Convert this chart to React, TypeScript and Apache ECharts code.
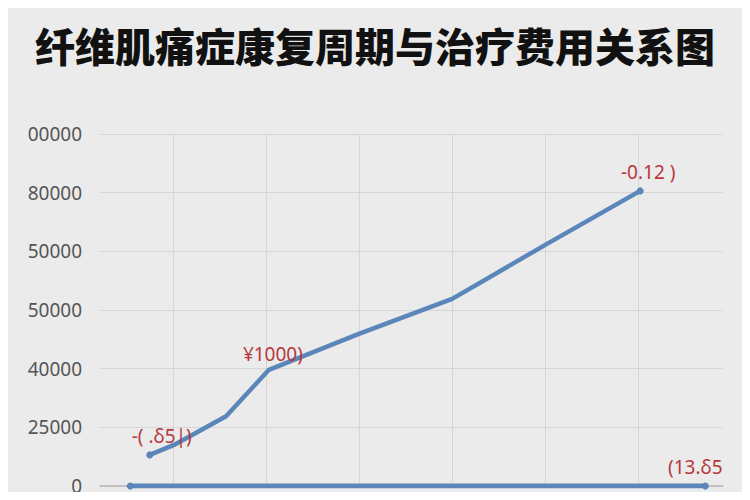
import React, { useEffect, useRef } from "react";
import * as echarts from "echarts";

const titleText = "纤维肌痛症康复周期与治疗费用关系图";
const yTickLabels = ["0", "25000", "40000", "50000", "50000", "80000", "00000"];

// main cost curve (x in grid-column units, y in grid-row units)
const costX = [0.75, 1.01, 1.57, 2.03, 2.99, 4.0, 5.0, 6.02];
const costY = [0.53, 0.7, 1.19, 1.98, 2.59, 3.19, 4.11, 5.03];
const costLabels = ["-( .δ5|)", "", "", "¥1000)", "", "", "", "-0.12 )"];

// flat baseline series
const flatX = [0.54, 6.72];
const flatY = [0, 0];
const flatLabels = ["", "(13.δ5"];

const lineColor = "#5a86b9";
const labelColor = "#b5383a";

function buildData(xs: number[], ys: number[], labels: string[], shifts: number[]) {
  return xs.map((x, i) => {
    const last = i === xs.length - 1;
    const item: any = { value: [x, ys[i]] };
    const showDot = last || i === 0;
    item.symbolSize = showDot ? 7 : 0;
    if (labels[i]) {
      item.label = {
        show: true,
        formatter: labels[i],
        position: "top",
        distance: 6,
        offset: [shifts[i] ?? 6, 0],
        color: labelColor,
        fontSize: 19,
        fontFamily: "Noto Sans",
      };
    }
    return item;
  });
}

export default function App() {
  const ref = useRef<HTMLDivElement>(null);
  useEffect(() => {
    if (!ref.current) return;
    const chart = echarts.init(ref.current, null, { renderer: "svg" });
    chart.setOption({
      animation: false,
      backgroundColor: "#ebebeb",
      title: {
        text: titleText,
        left: "center",
        top: 20,
        textStyle: {
          fontSize: 40,
          fontWeight: 900,
          color: "#111",
          fontFamily: "Noto Sans CJK SC",
        },
      },
      grid: { left: 100, right: 27, top: 134, bottom: 14, containLabel: false },
      xAxis: {
        type: "value",
        min: 0.215,
        max: 6.91,
        minInterval: 1,
        maxInterval: 1,
        axisLabel: { show: false },
        axisTick: { show: false },
        axisLine: { show: true, lineStyle: { color: "#b5b5b5", width: 1.5 } },
        splitLine: {
          show: true,
          showMinLine: false,
          showMaxLine: false,
          lineStyle: { color: "#d6d6d6", width: 1 },
        },
      },
      yAxis: {
        type: "value",
        min: 0,
        max: 6,
        interval: 1,
        axisLine: { show: false },
        axisTick: { show: false },
        axisLabel: {
          formatter: (v: number) => yTickLabels[Math.round(v)] ?? "",
          color: "#555",
          fontSize: 19,
          margin: 18,
          fontFamily: "Noto Sans",
        },
        splitLine: { show: true, lineStyle: { color: "#d6d6d6", width: 1 } },
      },
      series: [
        {
          type: "line",
          data: buildData(flatX, flatY, flatLabels, [0, -10]),
          symbol: "circle",
          lineStyle: { color: lineColor, width: 5, cap: "round" },
          itemStyle: { color: lineColor },
          z: 3,
        },
        {
          type: "line",
          data: buildData(costX, costY, costLabels, [12, 0, 0, 4, 0, 0, 0, 8]),
          symbol: "circle",
          showSymbol: true,
          lineStyle: { color: lineColor, width: 4.5, cap: "round", join: "round" },
          itemStyle: { color: lineColor },
          z: 4,
        },
      ],
    });
    return () => chart.dispose();
  }, []);
  return <div ref={ref} style={{ width: 750, height: 500, margin: -8 }} />;
}
